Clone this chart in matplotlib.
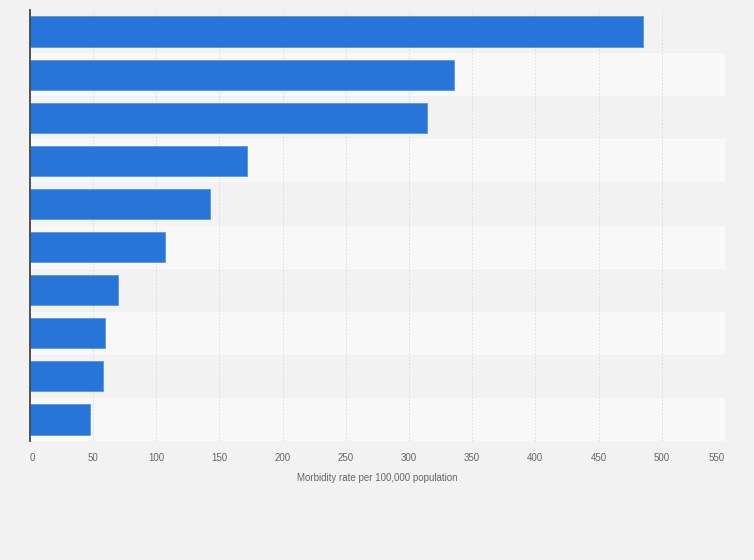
import matplotlib.pyplot as plt
import numpy as np

# ---------------------------------------------------------------------
# Data (top bar first)
# ---------------------------------------------------------------------

rates = [485, 336, 314, 172, 143, 107, 70, 59.5, 58, 48]
x_ticks = [0, 50, 100, 150, 200, 250, 300, 350, 400, 450, 500, 550]
x_label = 'Morbidity rate per 100,000 population'

bar_color = '#2775d9'
bg_color = '#f2f2f2'

plt.rcParams['font.family'] = ['Liberation Sans', 'DejaVu Sans']

# ---------------------------------------------------------------------
# Figure
# ---------------------------------------------------------------------

fig = plt.figure(figsize=(7.54, 5.6), dpi=100, facecolor=bg_color)
ax = fig.add_axes([29.7 / 754, 119 / 560, (725 - 29.7) / 754, 431 / 560])
ax.set_facecolor(bg_color)

n = len(rates)
ypos = np.arange(n)

# alternating row stripes
for i in range(n):
    ax.axhspan(i - 0.5, i + 0.5, color='#f2f2f2' if i % 2 == 0 else '#f8f8f8', zorder=0, lw=0)

ax.barh(ypos, rates, height=0.7, color=bar_color, edgecolor='#5b95e3', linewidth=0.6, zorder=3)

ax.set_ylim(n - 0.5, -0.5)
ax.set_xlim(0, 550)
ax.set_yticks([])
ax.set_xticks(x_ticks)
ax.set_xticklabels([str(t) for t in x_ticks], fontsize=7, color='#666666')
labels = ax.get_xticklabels()
labels[0].set_horizontalalignment('left')
labels[-1].set_horizontalalignment('right')
ax.tick_params(axis='x', length=0, pad=8.5)
ax.tick_params(axis='y', length=0)

ax.grid(axis='x', color='#d9d9d9', linestyle=(0, (2, 2)), linewidth=0.6, zorder=1)
ax.set_axisbelow(True)

for side in ['top', 'right', 'bottom']:
    ax.spines[side].set_visible(False)
ax.spines['left'].set_color('#444444')
ax.spines['left'].set_linewidth(1.3)
ax.spines['left'].set_zorder(4)

ax.set_xlabel(x_label, fontsize=7, color='#666666', labelpad=7)

plt.savefig('out.png', dpi=100, facecolor=bg_color)
